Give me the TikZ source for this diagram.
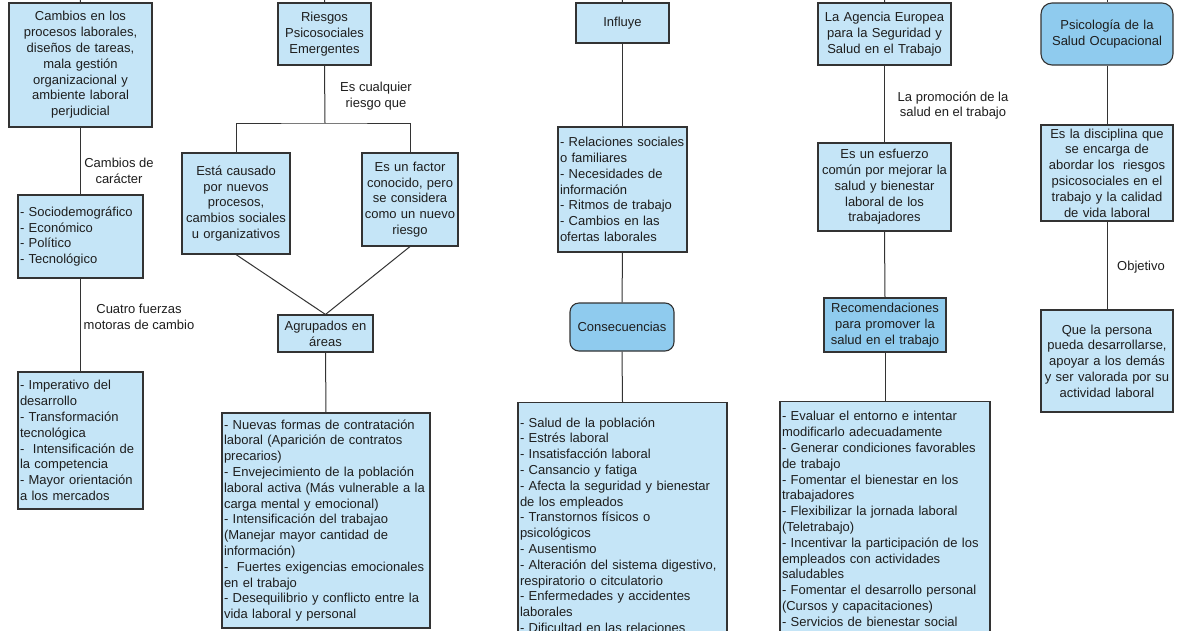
\documentclass[tikz,border=0pt]{standalone}
\usepackage{fontspec}
\setmainfont{Liberation Sans}
\definecolor{boxfill}{HTML}{C5E5F7}
\definecolor{boxdark}{HTML}{8FCBEE}
\definecolor{edgecol}{HTML}{333333}
\definecolor{txtcol}{HTML}{1E1E1E}
\tikzset{
  base/.style={draw=edgecol, line width=1.1pt, fill=boxfill, text=txtcol, inner xsep=2pt, inner ysep=2pt,
    font=\fontsize{13}{15.8}\selectfont},
  cbox/.style={base, align=center},
  lbox/.style={base, align=left},
  rbox/.style={base, align=center, fill=boxdark, rounded corners=9pt},
  dbox/.style={base, align=center, fill=boxdark},
  lab/.style={text=txtcol, align=center, font=\fontsize{13}{15.8}\selectfont},
  conn/.style={draw=edgecol, line width=1pt},
}
\begin{document}
\begin{tikzpicture}[x=1pt,y=-1pt]
\useasboundingbox (0,0) rectangle (1200,630);
\clip (0,0) rectangle (1200,630);
\fill[white] (0,0) rectangle (1200,630);

% column 1
\node[cbox, minimum width=143, minimum height=124, text width=139] (A) at (80.5,65) {Cambios en los\\procesos laborales,\\diseños de tareas,\\mala gestión\\organizacional y\\ambiente laboral\\perjudicial};
\node[lbox, minimum width=125, minimum height=83, text width=121] (B) at (80.5,236.5) {- Sociodemográfico\\- Económico\\- Político\\- Tecnológico};
\node[lbox, minimum width=125, minimum height=137, text width=121] (C) at (80.5,440.5) {- Imperativo del\\desarrollo\\- Transformación\\tecnológica\\-~~Intensificación de\\la competencia\\- Mayor orientación\\a los mercados};
\coordinate (Atop) at (80,-5);
\draw[conn] (Atop) -- (A.north);
\draw[conn] (A.south) -- (B.north);
\draw[conn] (B.south) -- (C.north);
\node[lab] (lab1) at (119,171) {Cambios de\\carácter};
\node[lab] (lab2) at (139,317) {Cuatro fuerzas\\motoras de cambio};

% column 2
\node[cbox, minimum width=93, minimum height=62, text width=89] (D) at (324.5,34) {Riesgos\\Psicosociales\\Emergentes};
\node[cbox, minimum width=108, minimum height=101, text width=104] (E) at (236,203.5) {Está causado\\por nuevos\\procesos,\\cambios sociales\\u organizativos};
\node[cbox, minimum width=96, minimum height=93, text width=92] (F) at (410,199.5) {Es un factor\\conocido, pero\\se considera\\como un nuevo\\riesgo};
\node[cbox, minimum width=95, minimum height=37, text width=91] (G) at (325.5,333.5) {Agrupados en\\áreas};
\node[lbox, minimum width=208, minimum height=215, text width=204] (H) at (326,520.5) {- Nuevas formas de contratación\\laboral (Aparición de contratos\\precarios)\\- Envejecimiento de la población\\laboral activa (Más vulnerable a la\\carga mental y emocional)\\- Intensificación del trabajao\\(Manejar mayor cantidad de\\información)\\-~~Fuertes exigencias emocionales\\en el trabajo\\- Desequilibrio y conflicto entre la\\vida laboral y personal};
\coordinate (Dtop) at (325,-5);
\coordinate (split) at (325,123);
\draw[conn] (Dtop) -- (D.north);
\draw[conn] (D.south) -- (split);
\draw[conn] (E.north) |- (split) -| (F.north);
\draw[conn] (E.south) -- (G.north);
\draw[conn] (F.south) -- (G.north);
\draw[conn] (G.south) -- (H.north);
\node[lab] (lab3) at (376,96) {Es cualquier\\riesgo que};

% column 3
\node[cbox, minimum width=93, minimum height=40, text width=89] (I) at (622.5,23) {Influye};
\node[lbox, minimum width=129, minimum height=125, text width=125] (J) at (622.5,189.5) {- Relaciones sociales\\o familiares\\- Necesidades de\\información\\- Ritmos de trabajo\\- Cambios en las\\ofertas laborales};
\node[rbox, minimum width=104, minimum height=48, text width=100] (K) at (622,327) {Consecuencias};
\node[lbox, anchor=north, minimum width=209, text width=205, inner ysep=15pt] (L) at (622.5,402) {- Salud de la población\\- Estrés laboral\\- Insatisfacción laboral\\- Cansancio y fatiga\\- Afecta la seguridad y bienestar\\de los empleados\\- Transtornos físicos o\\psicológicos\\- Ausentismo\\- Alteración del sistema digestivo,\\respiratorio o citculatorio\\- Enfermedades y accidentes\\laborales\\- Dificultad en las relaciones};
\coordinate (Itop) at (622,-5);
\draw[conn] (Itop) -- (I.north);
\draw[conn] (I.south) -- (J.north);
\draw[conn] (J.south) -- (K.north);
\draw[conn] (K.south) -- (L.north);

% column 4
\node[cbox, minimum width=133, minimum height=62, text width=129] (M) at (884.5,34) {La Agencia Europea\\para la Seguridad y\\Salud en el Trabajo};
\node[cbox, minimum width=133, minimum height=88, text width=129] (N) at (884.5,187) {Es un esfuerzo\\común por mejorar la\\salud y bienestar\\laboral de los\\trabajadores};
\node[dbox, minimum width=122, minimum height=54, text width=118] (O) at (885,325) {Recomendaciones\\para promover la\\salud en el trabajo};
\node[lbox, anchor=north, minimum width=210, text width=206, inner ysep=10pt] (P) at (885,401) {- Evaluar el entorno e intentar\\modificarlo adecuadamente\\- Generar condiciones favorables\\de trabajo\\- Fomentar el bienestar en los\\trabajadores\\- Flexibilizar la jornada laboral\\(Teletrabajo)\\- Incentivar la participación de los\\empleados con actividades\\saludables\\- Fomentar el desarrollo personal\\(Cursos y capacitaciones)\\- Servicios de bienestar social};
\coordinate (Mtop) at (885,-5);
\draw[conn] (Mtop) -- (M.north);
\draw[conn] (M.south) -- (N.north);
\draw[conn] (N.south) -- (O.north);
\draw[conn] (O.south) -- (P.north);
\node[lab] (lab4) at (953,105.5) {La promoción de la\\salud en el trabajo};

% column 5
\node[rbox, minimum width=132, minimum height=62, text width=128, rounded corners=11pt] (Q) at (1107,34) {Psicología de la\\Salud Ocupacional};
\node[cbox, minimum width=132, minimum height=96, text width=128] (R) at (1107,173) {Es la disciplina que\\se encarga de\\abordar los~~riesgos\\psicosociales en el\\trabajo y la calidad\\de vida laboral};
\node[cbox, minimum width=132, minimum height=102, text width=128] (S) at (1107,361) {Que la persona\\pueda desarrollarse,\\apoyar a los demás\\y ser valorada por su\\actividad laboral};
\coordinate (Qtop) at (1107,-5);
\draw[conn] (Qtop) -- (Q.north);
\draw[conn] (Q.south) -- (R.north);
\draw[conn] (R.south) -- (S.north);
\node[lab] (lab5) at (1141,267) {Objetivo};
\end{tikzpicture}
\end{document}
